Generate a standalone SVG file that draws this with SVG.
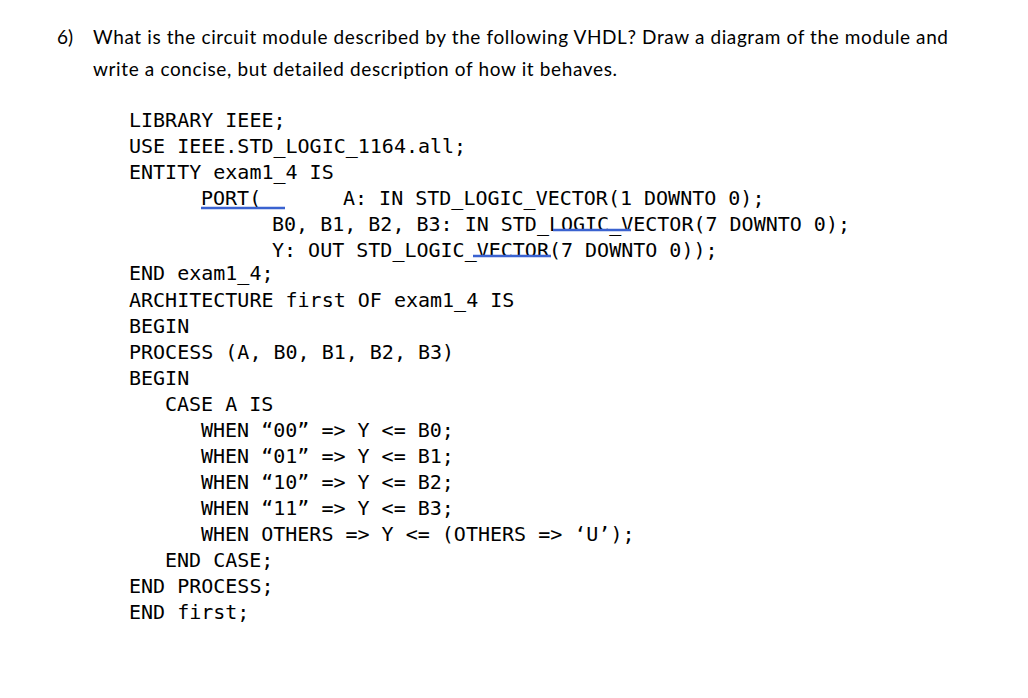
<svg xmlns="http://www.w3.org/2000/svg" width="1028" height="698" viewBox="0 0 1028 698">
<style>
.q{font-family:Lato,"Open Sans","Liberation Sans",sans-serif;font-size:19px;fill:#000}
.c{font-family:"DejaVu Sans Mono","Liberation Mono",monospace;font-size:20px;fill:#000;white-space:pre}
.u{stroke:#3a62d0;stroke-width:2.5}
</style>
<rect width="1028" height="698" fill="#fff"/>
<g id="question">
<text class="q" x="57" y="44">6)</text>
<text class="q" x="93" y="44" textLength="855" lengthAdjust="spacing">What is the circuit module described by the following VHDL? Draw a diagram of the module and</text>
<text class="q" x="93" y="76" textLength="524" lengthAdjust="spacing">write a concise, but detailed description of how it behaves.</text>
</g>
<g id="code">
<text class="c" x="129" y="127">LIBRARY IEEE;</text>
<text class="c" x="129" y="153">USE IEEE.STD_LOGIC_1164.all;</text>
<text class="c" x="129" y="179">ENTITY exam1_4 IS</text>
<text class="c" x="201" y="205">PORT(</text>
<text class="c" x="343" y="205">A: IN STD_LOGIC_VECTOR(1 DOWNTO 0);</text>
<text class="c" x="272" y="231">B0, B1, B2, B3: IN STD_LOGIC_VECTOR(7 DOWNTO 0);</text>
<text class="c" x="272" y="257">Y: OUT STD_LOGIC_VECTOR(7 DOWNTO 0));</text>
<text class="c" x="129" y="280">END exam1_4;</text>
<text class="c" x="129" y="307">ARCHITECTURE first OF exam1_4 IS</text>
<text class="c" x="129" y="333">BEGIN</text>
<text class="c" x="129" y="359">PROCESS (A, B0, B1, B2, B3)</text>
<text class="c" x="129" y="385">BEGIN</text>
<text class="c" x="165" y="411">CASE A IS</text>
<text class="c" x="201" y="437">WHEN “00” =&gt; Y &lt;= B0;</text>
<text class="c" x="201" y="463">WHEN “01” =&gt; Y &lt;= B1;</text>
<text class="c" x="201" y="489">WHEN “10” =&gt; Y &lt;= B2;</text>
<text class="c" x="201" y="515">WHEN “11” =&gt; Y &lt;= B3;</text>
<text class="c" x="201" y="541">WHEN OTHERS =&gt; Y &lt;= (OTHERS =&gt; ‘U’);</text>
<text class="c" x="165" y="567">END CASE;</text>
<text class="c" x="129" y="593">END PROCESS;</text>
<text class="c" x="129" y="619">END first;</text>
</g>
<g id="underlines">
<line class="u" x1="201" y1="208" x2="285" y2="208"/>
<line class="u" x1="553" y1="230" x2="631" y2="230"/>
<line class="u" x1="473" y1="256" x2="551" y2="256"/>
</g>
</svg>
